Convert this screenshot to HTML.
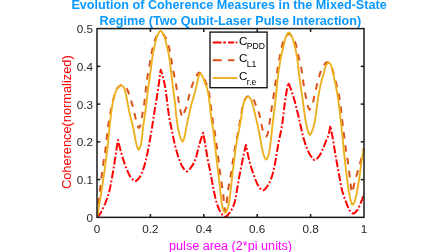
<!DOCTYPE html>
<html><head><meta charset="utf-8"><title>Coherence plot</title>
<style>
html,body{margin:0;padding:0;background:#fff;}
body{width:448px;height:252px;overflow:hidden;position:relative;font-family:"Liberation Sans",Arial,Helvetica,sans-serif;}
svg{position:absolute;left:0;top:0;display:block;}
text{font-family:"Liberation Sans",Arial,Helvetica,sans-serif;}
.tk{font-size:11.7px;fill:#262626;}
.ttl{font-size:12.65px;font-weight:bold;fill:#0998ff;}
</style></head><body>
<svg width="448" height="252" viewBox="0 0 448 252">
<rect x="0" y="0" width="448" height="252" fill="#fff"/>
<text class="ttl" x="229.1" y="9.2" text-anchor="middle">Evolution of Coherence Measures in the Mixed-State</text>
<text class="ttl" x="230.4" y="24.7" text-anchor="middle">Regime (Two Qubit-Laser Pulse Interaction)</text>
<defs><clipPath id="cp"><rect x="97.0" y="27.6" width="267.8" height="190.25"/></clipPath></defs>
<g clip-path="url(#cp)" fill="none" stroke-linejoin="round">
<path d="M97.0,217.4 L97.5,217.0 L98.0,216.5 L98.5,215.9 L99.0,215.3 L99.5,214.7 L100.0,214.0 L100.5,213.2 L101.0,212.4 L101.5,211.4 L102.0,210.4 L102.5,209.4 L103.0,208.3 L103.5,207.2 L104.0,206.1 L104.5,204.9 L105.0,203.8 L105.5,202.6 L106.0,201.3 L106.5,200.0 L107.0,198.6 L107.5,197.2 L108.0,195.7 L108.5,194.1 L109.0,192.3 L109.5,190.4 L110.0,188.3 L110.5,185.9 L111.0,183.3 L111.5,180.6 L112.0,177.8 L112.5,174.9 L113.0,172.0 L113.5,169.0 L114.0,165.8 L114.5,162.6 L115.0,159.3 L115.5,156.0 L116.0,152.7 L116.5,149.4 L117.0,146.2 L117.5,142.9 L118.0,139.9 L118.5,142.1 L119.0,144.2 L119.5,146.3 L120.0,148.3 L120.5,150.2 L121.0,152.1 L121.5,153.8 L122.0,155.5 L122.5,157.2 L123.0,158.8 L123.5,160.4 L124.0,161.9 L124.5,163.3 L125.0,164.7 L125.5,166.0 L126.0,167.3 L126.5,168.5 L127.0,169.7 L127.5,170.9 L128.0,172.0 L128.4,173.1 L128.9,174.1 L129.4,175.1 L129.9,176.0 L130.4,176.8 L130.9,177.4 L131.4,178.0 L131.9,178.6 L132.4,179.2 L132.9,179.8 L133.4,180.3 L133.9,180.6 L134.4,180.9 L134.9,181.1 L135.4,181.1 L135.9,180.9 L136.4,180.7 L136.9,180.3 L137.4,179.9 L137.9,179.3 L138.4,178.8 L138.9,178.2 L139.4,177.6 L139.9,176.9 L140.4,176.1 L140.9,175.1 L141.4,174.0 L141.9,172.8 L142.4,171.5 L142.9,170.1 L143.4,168.7 L143.9,167.3 L144.4,165.6 L144.9,163.8 L145.4,161.9 L145.9,159.8 L146.4,157.6 L146.9,155.4 L147.4,153.1 L147.9,150.7 L148.4,148.2 L148.9,145.6 L149.4,142.9 L149.9,140.1 L150.4,137.2 L150.9,134.3 L151.4,131.3 L151.9,128.3 L152.4,125.1 L152.9,121.7 L153.4,118.3 L153.9,115.0 L154.4,112.0 L154.9,109.0 L155.4,106.0 L155.9,103.1 L156.4,100.0 L156.9,97.0 L157.4,93.7 L157.9,90.4 L158.4,86.9 L158.9,83.3 L159.4,79.6 L159.9,75.7 L160.4,71.7 L160.7,69.7 L161.2,71.2 L161.7,72.8 L162.2,74.5 L162.7,76.3 L163.2,78.3 L163.7,80.3 L164.2,82.5 L164.7,84.8 L165.2,87.4 L165.7,90.5 L166.2,94.2 L166.7,98.3 L167.2,102.2 L167.7,106.1 L168.2,110.2 L168.7,114.0 L169.2,117.2 L169.7,120.0 L170.2,122.5 L170.7,124.9 L171.2,127.3 L171.7,129.6 L172.2,132.0 L172.7,134.4 L173.2,136.9 L173.7,139.4 L174.2,141.7 L174.7,143.9 L175.2,146.0 L175.7,147.9 L176.2,149.8 L176.7,151.5 L177.2,153.2 L177.7,154.9 L178.2,156.4 L178.7,157.9 L179.2,159.3 L179.7,160.6 L180.2,162.0 L180.7,163.2 L181.2,164.4 L181.7,165.4 L182.2,166.3 L182.7,167.1 L183.2,167.8 L183.7,168.6 L184.2,169.3 L184.7,169.9 L185.2,170.5 L185.7,170.9 L186.2,171.2 L186.7,171.4 L187.2,171.4 L187.7,171.2 L188.2,170.9 L188.7,170.4 L189.2,169.8 L189.7,169.2 L190.2,168.5 L190.7,167.8 L191.2,167.1 L191.7,166.4 L192.2,165.6 L192.7,164.9 L193.2,164.0 L193.7,163.0 L194.2,162.0 L194.7,160.9 L195.2,159.7 L195.7,158.4 L196.2,156.8 L196.7,155.0 L197.2,152.9 L197.7,150.8 L198.2,148.7 L198.7,146.7 L199.2,145.0 L199.7,143.3 L200.2,141.6 L200.7,140.0 L201.2,138.4 L201.7,136.9 L202.2,135.4 L202.7,133.9 L203.1,132.8 L203.6,135.4 L204.1,138.1 L204.6,140.9 L205.1,143.7 L205.6,146.6 L206.1,149.6 L206.6,152.8 L207.1,155.8 L207.6,158.7 L208.1,161.3 L208.6,163.7 L209.1,166.1 L209.6,168.5 L210.1,170.9 L210.6,173.5 L211.1,176.1 L211.6,178.9 L212.1,181.6 L212.6,184.4 L213.1,187.0 L213.6,189.6 L214.1,192.0 L214.6,194.3 L215.1,196.6 L215.6,198.8 L216.1,200.9 L216.6,202.7 L217.1,204.3 L217.6,205.7 L218.1,207.0 L218.6,208.2 L219.1,209.4 L219.6,210.4 L220.1,211.4 L220.6,212.2 L221.1,212.9 L221.6,213.7 L222.1,214.4 L222.6,215.0 L223.1,215.7 L223.6,216.2 L224.1,216.6 L224.6,216.8 L225.1,216.9 L225.6,216.8 L226.1,216.5 L226.6,216.2 L227.1,215.7 L227.6,215.2 L228.1,214.6 L228.6,213.9 L229.1,213.3 L229.6,212.7 L230.1,212.0 L230.6,211.3 L231.1,210.5 L231.6,209.7 L232.1,208.7 L232.6,207.7 L233.1,206.6 L233.6,205.3 L234.1,204.0 L234.6,202.4 L235.1,200.3 L235.6,197.9 L236.1,195.2 L236.6,192.4 L237.1,189.4 L237.6,186.3 L238.1,183.3 L238.6,180.3 L239.1,177.5 L239.6,175.0 L240.1,172.4 L240.6,169.9 L241.1,167.4 L241.6,164.9 L242.1,162.4 L242.6,160.0 L243.1,157.6 L243.6,155.3 L244.1,153.0 L244.6,150.7 L245.1,148.4 L245.6,146.2 L245.9,144.9 L246.4,147.4 L246.9,149.9 L247.4,152.3 L247.9,154.6 L248.4,156.8 L248.9,159.0 L249.4,161.0 L249.9,162.9 L250.4,164.7 L250.9,166.4 L251.4,168.1 L251.9,169.6 L252.4,171.2 L252.9,172.6 L253.4,174.0 L253.9,175.4 L254.4,176.7 L254.9,178.0 L255.4,179.4 L255.9,180.7 L256.4,181.9 L256.9,183.1 L257.4,184.2 L257.9,185.1 L258.4,185.9 L258.9,186.7 L259.4,187.4 L259.9,188.1 L260.4,188.8 L260.9,189.4 L261.4,189.8 L261.9,190.2 L262.4,190.4 L262.9,190.4 L263.4,190.3 L263.9,190.0 L264.4,189.6 L264.9,189.2 L265.4,188.7 L265.9,188.1 L266.4,187.4 L266.9,186.8 L267.4,186.1 L267.9,185.4 L268.4,184.6 L268.9,183.7 L269.4,182.7 L269.9,181.6 L270.4,180.5 L270.9,179.2 L271.4,177.8 L271.9,176.4 L272.4,174.8 L272.9,172.9 L273.4,170.9 L273.9,168.7 L274.4,166.5 L274.9,164.1 L275.4,161.4 L275.9,158.6 L276.4,155.6 L276.9,152.5 L277.4,149.5 L277.9,146.5 L278.4,143.6 L278.9,141.0 L279.4,138.5 L279.9,136.1 L280.4,133.8 L280.9,131.4 L281.4,128.9 L281.9,126.0 L282.4,122.7 L282.9,118.8 L283.4,114.7 L283.9,110.4 L284.4,106.2 L284.9,102.2 L285.4,98.6 L285.9,95.5 L286.4,92.5 L286.9,89.7 L287.4,87.0 L287.9,84.5 L288.3,82.7 L288.8,83.8 L289.3,85.0 L289.8,86.3 L290.3,87.6 L290.8,89.0 L291.3,90.4 L291.8,91.9 L292.3,93.4 L292.8,95.0 L293.3,96.5 L293.8,98.2 L294.3,99.9 L294.8,101.6 L295.3,103.5 L295.8,105.4 L296.3,107.4 L296.8,109.4 L297.3,111.4 L297.8,113.5 L298.3,115.6 L298.8,117.7 L299.3,119.9 L299.8,122.0 L300.3,124.2 L300.8,126.5 L301.3,128.8 L301.8,131.1 L302.3,133.4 L302.8,135.5 L303.3,137.4 L303.8,139.1 L304.3,140.8 L304.8,142.4 L305.3,143.9 L305.8,145.3 L306.3,146.7 L306.8,148.0 L307.3,149.2 L307.8,150.3 L308.3,151.4 L308.8,152.5 L309.3,153.5 L309.8,154.4 L310.3,155.3 L310.8,156.0 L311.3,156.7 L311.8,157.4 L312.3,158.1 L312.8,158.7 L313.3,159.3 L313.8,159.7 L314.3,160.0 L314.8,160.1 L315.3,160.0 L315.8,159.8 L316.3,159.4 L316.8,158.9 L317.3,158.4 L317.8,157.8 L318.3,157.2 L318.8,156.5 L319.3,155.9 L319.8,155.2 L320.3,154.3 L320.8,153.4 L321.3,152.4 L321.8,151.3 L322.3,150.2 L322.8,149.1 L323.3,148.0 L323.8,146.8 L324.3,145.5 L324.8,144.1 L325.3,142.8 L325.8,141.5 L326.3,140.3 L326.8,139.2 L327.3,138.1 L327.8,136.9 L328.3,135.4 L328.8,133.5 L329.3,131.4 L329.8,129.0 L330.3,126.3 L330.4,125.8 L330.9,128.3 L331.4,130.9 L331.9,133.6 L332.4,136.3 L332.9,139.2 L333.4,142.1 L333.9,145.2 L334.4,148.4 L334.9,151.4 L335.4,154.4 L335.9,157.3 L336.4,160.1 L336.9,163.0 L337.4,165.8 L337.9,168.5 L338.4,171.2 L338.9,173.9 L339.4,176.5 L339.9,179.3 L340.4,182.1 L340.9,184.8 L341.4,187.4 L341.9,189.6 L342.4,191.5 L342.9,193.2 L343.4,194.8 L343.9,196.3 L344.4,197.7 L344.9,199.1 L345.4,200.4 L345.9,201.7 L346.4,203.0 L346.9,204.3 L347.4,205.7 L347.9,207.0 L348.4,208.3 L348.9,209.3 L349.4,210.2 L349.9,210.8 L350.4,211.4 L350.9,212.0 L351.4,212.5 L351.9,212.9 L352.4,213.3 L352.9,213.4 L353.4,213.5 L353.9,213.4 L354.4,213.1 L354.9,212.7 L355.4,212.3 L355.9,211.7 L356.4,211.1 L356.9,210.5 L357.4,209.9 L357.9,209.2 L358.4,208.3 L358.9,207.3 L359.4,206.2 L359.9,205.1 L360.4,203.9 L360.9,202.7 L361.4,201.4 L361.9,200.1 L362.4,198.6 L362.9,197.1 L363.4,195.5 L363.9,193.8 L364.0,193.5" stroke="#ff0000" stroke-width="2" stroke-dasharray="8,2.1,1.9,2.1"/>
<path d="M97.0,217.4 L97.5,212.6 L98.0,207.9 L98.5,203.3 L99.0,198.7 L99.5,194.3 L100.0,190.0 L100.5,185.8 L101.0,181.6 L101.5,177.4 L102.0,173.4 L102.5,169.5 L103.0,165.7 L103.5,162.1 L104.0,158.7 L104.5,155.7 L105.0,152.7 L105.5,149.3 L106.0,145.3 L106.5,140.8 L107.0,136.2 L107.5,131.5 L108.0,127.2 L108.5,123.3 L109.0,120.1 L109.5,117.2 L110.0,114.4 L110.5,111.9 L111.0,109.4 L111.5,107.1 L112.0,104.9 L112.5,102.8 L113.0,100.7 L113.5,98.6 L114.0,96.8 L114.5,95.1 L115.0,93.7 L115.5,92.3 L116.0,91.1 L116.5,89.9 L117.0,88.9 L117.5,88.1 L118.0,87.4 L118.5,86.9 L119.0,86.5 L119.5,86.1 L120.0,85.7 L120.5,85.4 L121.0,85.1 L121.5,84.9 L122.0,84.8 L122.5,84.8 L123.0,84.9 L123.5,85.2 L124.0,85.5 L124.5,85.9 L125.0,86.3 L125.5,86.8 L126.0,87.4 L126.5,88.2 L127.0,89.1 L127.5,90.2 L128.0,91.4 L128.5,92.7 L129.0,94.0 L129.5,95.4 L130.0,96.9 L130.5,98.5 L131.0,100.2 L131.5,102.0 L132.0,103.8 L132.5,105.6 L133.0,107.4 L133.5,109.4 L134.0,111.4 L134.5,113.4 L135.0,115.4 L135.5,117.7 L136.0,120.1 L136.5,122.3 L137.0,124.0 L137.5,125.4 L138.0,126.7 L138.5,127.6 L139.0,127.9 L139.5,127.4 L140.0,126.4 L140.5,125.0 L141.0,123.1 L141.5,119.7 L142.0,116.4 L142.5,113.5 L143.0,110.8 L143.5,108.0 L144.0,105.0 L144.5,101.6 L145.0,97.4 L145.5,92.6 L146.0,87.7 L146.5,83.3 L147.0,79.7 L147.5,76.6 L148.0,73.9 L148.5,71.3 L149.0,68.6 L149.5,65.6 L150.0,62.3 L150.5,59.1 L151.0,56.1 L151.5,53.4 L152.0,50.9 L152.5,48.5 L153.0,46.4 L153.5,44.5 L154.0,42.9 L154.5,41.3 L155.0,39.9 L155.5,38.6 L156.0,37.5 L156.5,36.5 L157.0,35.8 L157.5,35.2 L158.0,34.7 L158.5,34.2 L159.0,33.7 L159.5,33.4 L160.0,33.1 L160.5,33.0 L161.0,33.0 L161.5,33.2 L162.0,33.4 L162.5,33.8 L163.0,34.2 L163.5,34.7 L164.0,35.2 L164.5,35.8 L165.0,36.5 L165.5,37.3 L166.0,38.3 L166.5,39.4 L167.0,40.7 L167.5,42.0 L168.0,43.5 L168.5,45.2 L169.0,47.3 L169.5,49.6 L170.0,52.1 L170.5,54.7 L171.0,57.4 L171.5,60.6 L172.0,63.8 L172.5,66.9 L173.0,69.6 L173.5,72.0 L174.0,74.3 L174.5,76.6 L175.0,79.1 L175.5,81.8 L176.0,84.7 L176.5,87.8 L177.0,91.0 L177.5,94.2 L178.0,97.4 L178.5,100.4 L179.0,103.2 L179.5,105.9 L180.0,108.5 L180.5,111.0 L181.0,113.0 L181.5,114.9 L182.0,116.6 L182.5,117.1 L183.0,116.2 L183.5,114.6 L184.0,113.0 L184.5,111.7 L185.0,110.5 L185.5,109.3 L186.0,108.1 L186.5,106.7 L187.0,105.1 L187.5,103.1 L188.0,100.5 L188.5,98.1 L189.0,96.2 L189.5,94.3 L190.0,92.4 L190.5,90.7 L191.0,89.0 L191.5,87.4 L192.0,85.9 L192.5,84.5 L193.0,83.1 L193.5,81.9 L194.0,80.7 L194.5,79.7 L195.0,78.7 L195.5,77.7 L196.0,76.7 L196.5,75.7 L197.0,74.8 L197.5,74.1 L198.0,73.5 L198.5,73.0 L199.0,72.8 L199.5,72.8 L200.0,73.0 L200.5,73.3 L201.0,73.7 L201.5,74.2 L202.0,74.8 L202.5,75.4 L203.0,76.0 L203.5,76.8 L204.0,77.9 L204.5,79.2 L205.0,80.5 L205.5,81.8 L206.0,83.0 L206.5,84.2 L207.0,85.4 L207.5,86.7 L208.0,88.2 L208.5,90.0 L209.0,92.4 L209.5,95.6 L210.0,99.2 L210.5,103.0 L211.0,107.2 L211.5,111.9 L212.0,116.0 L212.5,119.3 L213.0,122.3 L213.5,125.1 L214.0,127.8 L214.5,130.7 L215.0,134.0 L215.5,137.4 L216.0,140.9 L216.5,144.5 L217.0,148.2 L217.5,152.1 L218.0,156.2 L218.5,160.2 L219.0,164.3 L219.5,168.3 L220.0,172.3 L220.5,176.0 L221.0,179.4 L221.5,182.6 L222.0,185.7 L222.5,188.9 L223.0,192.5 L223.5,197.0 L224.0,202.9 L224.5,208.0 L225.0,211.5 L225.5,211.2 L226.0,208.0 L226.5,204.1 L227.0,199.2 L227.5,194.3 L228.0,190.3 L228.5,187.2 L229.0,184.4 L229.5,181.9 L230.0,179.3 L230.5,176.6 L231.0,173.6 L231.5,170.4 L232.0,167.2 L232.5,163.8 L233.0,160.5 L233.5,157.1 L234.0,153.9 L234.5,150.7 L235.0,147.7 L235.5,144.9 L236.0,142.3 L236.5,139.9 L237.0,137.5 L237.5,135.1 L238.0,132.5 L238.5,129.8 L239.0,127.0 L239.5,124.1 L240.0,121.2 L240.5,118.3 L241.0,115.4 L241.5,112.3 L242.0,109.3 L242.5,106.7 L243.0,104.8 L243.5,103.0 L244.0,101.5 L244.5,100.3 L245.0,99.3 L245.5,98.5 L246.0,97.8 L246.5,97.2 L247.0,96.7 L247.5,96.5 L248.0,96.4 L248.5,96.3 L249.0,96.3 L249.5,96.2 L250.0,96.2 L250.5,96.2 L251.0,96.3 L251.5,96.7 L252.0,97.2 L252.5,97.9 L253.0,98.7 L253.5,99.6 L254.0,100.4 L254.5,101.5 L255.0,102.8 L255.5,104.2 L256.0,105.5 L256.5,106.8 L257.0,108.0 L257.5,109.1 L258.0,110.4 L258.5,111.7 L259.0,113.3 L259.5,115.2 L260.0,117.4 L260.5,119.7 L261.0,122.2 L261.5,124.6 L262.0,126.9 L262.5,129.1 L263.0,131.1 L263.5,132.7 L264.0,133.9 L264.5,134.8 L265.0,135.6 L265.5,136.3 L266.0,136.5 L266.5,136.2 L267.0,135.4 L267.5,134.3 L268.0,132.5 L268.5,129.8 L269.0,126.7 L269.5,123.1 L270.0,119.4 L270.5,115.8 L271.0,112.5 L271.5,109.4 L272.0,106.2 L272.5,103.0 L273.0,99.8 L273.5,96.5 L274.0,93.2 L274.5,89.7 L275.0,86.1 L275.5,82.6 L276.0,79.1 L276.5,75.7 L277.0,72.4 L277.5,69.4 L278.0,66.4 L278.5,63.5 L279.0,60.8 L279.5,58.1 L280.0,55.4 L280.5,52.7 L281.0,50.1 L281.5,47.8 L282.0,45.9 L282.5,44.1 L283.0,42.4 L283.5,40.8 L284.0,39.5 L284.5,38.3 L285.0,37.5 L285.5,36.8 L286.0,36.2 L286.5,35.6 L287.0,35.0 L287.5,34.6 L288.0,34.3 L288.5,34.1 L289.0,34.0 L289.5,34.1 L290.0,34.4 L290.5,34.8 L291.0,35.3 L291.5,35.8 L292.0,36.5 L292.5,37.1 L293.0,37.8 L293.5,38.6 L294.0,39.5 L294.5,40.6 L295.0,41.8 L295.5,43.2 L296.0,44.8 L296.5,46.9 L297.0,49.3 L297.5,51.8 L298.0,54.3 L298.5,56.5 L299.0,58.5 L299.5,60.4 L300.0,62.4 L300.5,64.4 L301.0,66.7 L301.5,69.3 L302.0,72.5 L302.5,76.2 L303.0,80.0 L303.5,83.4 L304.0,86.4 L304.5,89.4 L305.0,92.3 L305.5,95.2 L306.0,97.9 L306.5,100.5 L307.0,102.8 L307.5,104.8 L308.0,106.5 L308.5,107.8 L309.0,108.9 L309.5,109.6 L310.0,109.3 L310.5,108.5 L311.0,107.5 L311.5,106.4 L312.0,105.2 L312.5,103.7 L313.0,101.9 L313.5,99.9 L314.0,97.7 L314.5,95.5 L315.0,93.1 L315.5,90.9 L316.0,88.8 L316.5,86.6 L317.0,84.5 L317.5,82.5 L318.0,80.5 L318.5,78.6 L319.0,76.9 L319.5,75.2 L320.0,73.6 L320.5,72.1 L321.0,70.7 L321.5,69.4 L322.0,68.3 L322.5,67.3 L323.0,66.4 L323.5,65.6 L324.0,64.9 L324.5,64.3 L325.0,63.7 L325.5,63.1 L326.0,62.6 L326.5,62.3 L327.0,62.3 L327.5,62.4 L328.0,62.5 L328.5,62.7 L329.0,62.9 L329.5,63.2 L330.0,63.5 L330.5,64.1 L331.0,65.1 L331.5,66.4 L332.0,68.0 L332.5,69.7 L333.0,71.5 L333.5,73.3 L334.0,75.0 L334.5,76.8 L335.0,78.6 L335.5,80.6 L336.0,82.7 L336.5,84.8 L337.0,86.8 L337.5,88.8 L338.0,90.9 L338.5,93.0 L339.0,95.3 L339.5,98.0 L340.0,101.2 L340.5,105.0 L341.0,109.3 L341.5,113.8 L342.0,118.4 L342.5,122.9 L343.0,127.2 L343.5,131.2 L344.0,135.3 L344.5,139.3 L345.0,143.3 L345.5,147.1 L346.0,150.6 L346.5,153.9 L347.0,156.7 L347.5,159.5 L348.0,162.5 L348.5,166.0 L349.0,170.1 L349.5,174.6 L350.0,178.9 L350.5,182.9 L351.0,187.1 L351.5,191.0 L352.0,192.8 L352.5,191.9 L353.0,189.8 L353.5,187.1 L354.0,184.8 L354.5,182.9 L355.0,181.1 L355.5,179.3 L356.0,177.5 L356.5,175.8 L357.0,174.0 L357.5,172.3 L358.0,170.6 L358.5,168.8 L359.0,167.1 L359.5,165.3 L360.0,163.5 L360.5,161.7 L361.0,159.8 L361.5,157.9 L362.0,155.9 L362.5,154.0 L363.0,152.0 L363.5,150.0 L364.0,148.0" stroke="#d95319" stroke-width="2" stroke-dasharray="6.6,6.4"/>
<path d="M97.0,217.4 L97.5,214.7 L98.0,212.0 L98.5,209.2 L99.0,206.3 L99.5,203.3 L100.0,200.3 L100.5,197.3 L101.0,194.1 L101.5,190.9 L102.0,187.7 L102.5,184.4 L103.0,181.0 L103.5,177.6 L104.0,174.1 L104.5,170.6 L105.0,166.9 L105.5,163.2 L106.0,159.4 L106.5,155.6 L107.0,151.6 L107.5,147.2 L108.0,142.6 L108.5,137.8 L109.0,132.9 L109.5,128.1 L110.0,123.3 L110.5,118.8 L111.0,114.5 L111.5,110.7 L112.0,107.3 L112.5,104.2 L113.0,101.5 L113.5,99.2 L114.0,97.3 L114.5,95.5 L115.0,93.9 L115.5,92.3 L116.0,90.8 L116.5,89.5 L117.0,88.4 L117.5,87.8 L118.0,87.2 L118.5,86.7 L119.0,86.2 L119.5,85.8 L120.0,85.6 L120.5,85.4 L121.0,85.4 L121.5,85.6 L122.0,85.8 L122.5,86.2 L123.0,86.6 L123.5,87.2 L124.0,87.8 L124.5,88.9 L125.0,90.7 L125.5,92.8 L126.0,94.9 L126.5,97.2 L127.0,99.7 L127.5,102.4 L128.0,105.0 L128.5,107.8 L129.0,110.5 L129.5,112.9 L130.0,115.1 L130.5,117.0 L131.0,118.9 L131.5,120.8 L132.0,122.6 L132.5,124.6 L133.0,126.7 L133.5,129.0 L134.0,131.7 L134.5,134.6 L135.0,137.5 L135.5,140.2 L136.0,142.4 L136.5,144.4 L137.0,146.2 L137.5,147.6 L138.0,148.8 L138.5,149.7 L139.0,149.6 L139.5,148.6 L140.0,147.3 L140.5,145.9 L141.0,143.9 L141.5,141.4 L142.0,137.4 L142.5,132.5 L143.0,128.0 L143.5,124.3 L144.0,120.9 L144.5,117.6 L145.0,114.2 L145.5,110.5 L146.0,106.4 L146.5,102.2 L147.0,97.8 L147.5,93.6 L148.0,89.5 L148.5,85.8 L149.0,82.3 L149.5,79.0 L150.0,75.6 L150.5,72.0 L151.0,68.0 L151.5,63.8 L152.0,59.8 L152.5,56.4 L153.0,53.5 L153.5,50.9 L154.0,48.5 L154.5,46.3 L155.0,44.1 L155.5,42.0 L156.0,39.9 L156.5,38.1 L157.0,36.5 L157.5,35.3 L158.0,34.3 L158.5,33.3 L159.0,32.4 L159.5,31.7 L160.0,31.2 L160.5,30.9 L161.0,31.0 L161.5,31.3 L162.0,31.8 L162.5,32.6 L163.0,33.5 L163.5,34.5 L164.0,35.5 L164.5,36.8 L165.0,38.4 L165.5,40.4 L166.0,42.5 L166.5,44.6 L167.0,46.6 L167.5,48.7 L168.0,50.9 L168.5,53.2 L169.0,55.8 L169.5,58.9 L170.0,62.8 L170.5,67.0 L171.0,71.2 L171.5,75.2 L172.0,79.4 L172.5,83.5 L173.0,87.6 L173.5,91.5 L174.0,95.2 L174.5,98.9 L175.0,103.0 L175.5,108.0 L176.0,113.3 L176.5,117.6 L177.0,121.4 L177.5,124.9 L178.0,127.9 L178.5,130.5 L179.0,132.7 L179.5,134.7 L180.0,136.4 L180.5,137.8 L181.0,139.0 L181.5,140.2 L182.0,141.1 L182.5,141.6 L183.0,141.3 L183.5,140.3 L184.0,138.8 L184.5,137.1 L185.0,134.7 L185.5,131.7 L186.0,129.0 L186.5,126.5 L187.0,124.0 L187.5,121.6 L188.0,119.2 L188.5,116.9 L189.0,114.6 L189.5,112.4 L190.0,110.2 L190.5,108.0 L191.0,106.0 L191.5,104.1 L192.0,102.3 L192.5,100.5 L193.0,98.8 L193.5,97.2 L194.0,95.5 L194.5,93.7 L195.0,91.9 L195.5,90.0 L196.0,87.9 L196.5,85.6 L197.0,83.3 L197.5,81.1 L198.0,79.2 L198.5,77.2 L199.0,75.3 L199.5,73.9 L200.0,73.5 L200.5,73.7 L201.0,74.2 L201.5,74.8 L202.0,75.6 L202.5,76.3 L203.0,77.4 L203.5,78.7 L204.0,80.1 L204.5,81.5 L205.0,82.8 L205.5,84.1 L206.0,85.3 L206.5,86.6 L207.0,88.2 L207.5,90.0 L208.0,92.3 L208.5,95.2 L209.0,98.6 L209.5,102.2 L210.0,106.6 L210.5,111.8 L211.0,116.4 L211.5,119.9 L212.0,122.8 L212.5,125.7 L213.0,128.6 L213.5,132.0 L214.0,136.1 L214.5,140.6 L215.0,145.1 L215.5,149.5 L216.0,153.7 L216.5,158.0 L217.0,162.3 L217.5,166.5 L218.0,170.8 L218.5,175.1 L219.0,179.5 L219.5,183.9 L220.0,188.2 L220.5,192.8 L221.0,197.7 L221.5,202.0 L222.0,205.1 L222.5,207.4 L223.0,209.2 L223.5,210.4 L224.0,211.5 L224.5,212.3 L225.0,212.8 L225.5,212.7 L226.0,212.1 L226.5,211.1 L227.0,210.0 L227.5,208.7 L228.0,207.1 L228.5,205.1 L229.0,202.7 L229.5,199.5 L230.0,195.7 L230.5,191.6 L231.0,187.4 L231.5,182.6 L232.0,177.8 L232.5,173.5 L233.0,169.4 L233.5,165.5 L234.0,161.6 L234.5,157.6 L235.0,153.3 L235.5,149.3 L236.0,145.8 L236.5,142.9 L237.0,140.3 L237.5,137.9 L238.0,135.6 L238.5,133.1 L239.0,130.3 L239.5,127.5 L240.0,124.5 L240.5,121.5 L241.0,118.4 L241.5,115.4 L242.0,112.0 L242.5,108.7 L243.0,106.1 L243.5,104.1 L244.0,102.3 L244.5,100.7 L245.0,99.6 L245.5,98.9 L246.0,98.2 L246.5,97.7 L247.0,97.2 L247.5,96.9 L248.0,96.8 L248.5,96.9 L249.0,97.2 L249.5,97.7 L250.0,98.2 L250.5,98.9 L251.0,99.6 L251.5,100.8 L252.0,102.4 L252.5,104.1 L253.0,105.9 L253.5,107.7 L254.0,109.7 L254.5,111.8 L255.0,113.9 L255.5,116.0 L256.0,118.1 L256.5,120.2 L257.0,122.4 L257.5,124.6 L258.0,126.9 L258.5,129.3 L259.0,131.8 L259.5,134.4 L260.0,137.0 L260.5,139.8 L261.0,142.7 L261.5,145.6 L262.0,148.2 L262.5,150.5 L263.0,152.7 L263.5,154.6 L264.0,156.0 L264.5,157.1 L265.0,158.2 L265.5,159.0 L266.0,159.5 L266.5,159.4 L267.0,158.8 L267.5,157.8 L268.0,156.5 L268.5,155.1 L269.0,152.9 L269.5,150.2 L270.0,147.1 L270.5,143.1 L271.0,138.7 L271.5,134.3 L272.0,129.7 L272.5,125.1 L273.0,120.8 L273.5,116.6 L274.0,112.4 L274.5,108.3 L275.0,104.1 L275.5,99.8 L276.0,95.3 L276.5,90.4 L277.0,85.4 L277.5,80.6 L278.0,76.0 L278.5,72.0 L279.0,68.5 L279.5,65.3 L280.0,62.3 L280.5,59.6 L281.0,57.0 L281.5,54.6 L282.0,52.4 L282.5,50.3 L283.0,48.2 L283.5,46.2 L284.0,44.2 L284.5,42.0 L285.0,39.8 L285.5,37.9 L286.0,36.5 L286.5,35.5 L287.0,34.6 L287.5,33.7 L288.0,33.1 L288.5,32.7 L289.0,32.6 L289.5,32.8 L290.0,33.4 L290.5,34.1 L291.0,35.0 L291.5,35.9 L292.0,36.9 L292.5,38.2 L293.0,39.8 L293.5,41.6 L294.0,43.5 L294.5,45.4 L295.0,47.3 L295.5,49.4 L296.0,51.6 L296.5,54.0 L297.0,56.8 L297.5,60.2 L298.0,64.6 L298.5,69.4 L299.0,73.6 L299.5,77.4 L300.0,81.1 L300.5,84.7 L301.0,88.2 L301.5,91.7 L302.0,95.2 L302.5,98.7 L303.0,102.4 L303.5,106.2 L304.0,110.0 L304.5,113.6 L305.0,117.1 L305.5,120.1 L306.0,122.9 L306.5,125.5 L307.0,127.8 L307.5,129.6 L308.0,131.2 L308.5,132.7 L309.0,134.0 L309.5,134.8 L310.0,134.9 L310.5,134.4 L311.0,133.6 L311.5,132.5 L312.0,131.2 L312.5,129.9 L313.0,128.5 L313.5,126.8 L314.0,124.8 L314.5,122.6 L315.0,120.2 L315.5,117.2 L316.0,113.7 L316.5,109.8 L317.0,105.9 L317.5,102.1 L318.0,98.6 L318.5,95.6 L319.0,92.7 L319.5,89.9 L320.0,87.4 L320.5,85.1 L321.0,83.1 L321.5,81.2 L322.0,79.5 L322.5,77.8 L323.0,76.1 L323.5,74.3 L324.0,72.4 L324.5,70.3 L325.0,68.3 L325.5,66.7 L326.0,65.5 L326.5,64.7 L327.0,63.9 L327.5,63.3 L328.0,62.8 L328.5,62.6 L329.0,62.7 L329.5,63.1 L330.0,63.8 L330.5,64.6 L331.0,65.6 L331.5,66.7 L332.0,68.5 L332.5,70.7 L333.0,73.0 L333.5,75.2 L334.0,77.4 L334.5,79.7 L335.0,82.1 L335.5,84.5 L336.0,87.0 L336.5,89.5 L337.0,92.1 L337.5,94.9 L338.0,98.0 L338.5,101.4 L339.0,105.2 L339.5,109.3 L340.0,113.5 L340.5,118.0 L341.0,122.5 L341.5,127.1 L342.0,131.8 L342.5,136.8 L343.0,142.0 L343.5,147.1 L344.0,152.0 L344.5,156.7 L345.0,161.3 L345.5,165.8 L346.0,170.2 L346.5,174.4 L347.0,178.4 L347.5,182.3 L348.0,186.1 L348.5,189.4 L349.0,192.3 L349.5,194.8 L350.0,197.1 L350.5,199.5 L351.0,201.6 L351.5,203.0 L352.0,204.0 L352.5,204.6 L353.0,204.6 L353.5,203.9 L354.0,202.9 L354.5,201.8 L355.0,200.4 L355.5,198.7 L356.0,196.8 L356.5,194.4 L357.0,191.7 L357.5,188.9 L358.0,186.0 L358.5,183.0 L359.0,179.9 L359.5,176.7 L360.0,173.2 L360.5,169.4 L361.0,165.5 L361.5,162.0 L362.0,159.0 L362.5,156.0 L363.0,153.3 L363.5,150.7 L364.0,148.4 L364.1,148.0" stroke="#edb120" stroke-width="1.9"/>
</g>
<g stroke="#1a1a1a" stroke-width="1.5" fill="none">
<rect x="97.0" y="28.6" width="267.0" height="188.75"/>
<line x1="150.40" y1="217.35" x2="150.40" y2="214.04999999999998"/><line x1="150.40" y1="28.6" x2="150.40" y2="31.900000000000002"/>
<line x1="203.80" y1="217.35" x2="203.80" y2="214.04999999999998"/><line x1="203.80" y1="28.6" x2="203.80" y2="31.900000000000002"/>
<line x1="257.20" y1="217.35" x2="257.20" y2="214.04999999999998"/><line x1="257.20" y1="28.6" x2="257.20" y2="31.900000000000002"/>
<line x1="310.60" y1="217.35" x2="310.60" y2="214.04999999999998"/><line x1="310.60" y1="28.6" x2="310.60" y2="31.900000000000002"/>
<line x1="97.0" y1="179.60" x2="100.3" y2="179.60"/><line x1="364.0" y1="179.60" x2="360.7" y2="179.60"/>
<line x1="97.0" y1="141.85" x2="100.3" y2="141.85"/><line x1="364.0" y1="141.85" x2="360.7" y2="141.85"/>
<line x1="97.0" y1="104.10" x2="100.3" y2="104.10"/><line x1="364.0" y1="104.10" x2="360.7" y2="104.10"/>
<line x1="97.0" y1="66.35" x2="100.3" y2="66.35"/><line x1="364.0" y1="66.35" x2="360.7" y2="66.35"/>
</g>
<text class="tk" x="97.00" y="233.2" text-anchor="middle">0</text>
<text class="tk" x="150.40" y="233.2" text-anchor="middle">0.2</text>
<text class="tk" x="203.80" y="233.2" text-anchor="middle">0.4</text>
<text class="tk" x="257.20" y="233.2" text-anchor="middle">0.6</text>
<text class="tk" x="310.60" y="233.2" text-anchor="middle">0.8</text>
<text class="tk" x="364.00" y="233.2" text-anchor="middle">1</text>
<text class="tk" x="93.0" y="221.75" text-anchor="end">0</text>
<text class="tk" x="93.0" y="184.00" text-anchor="end">0.1</text>
<text class="tk" x="93.0" y="146.25" text-anchor="end">0.2</text>
<text class="tk" x="93.0" y="108.50" text-anchor="end">0.3</text>
<text class="tk" x="93.0" y="70.75" text-anchor="end">0.4</text>
<text class="tk" x="93.0" y="33.00" text-anchor="end">0.5</text>
<text x="230.5" y="250" text-anchor="middle" font-size="12.65" fill="#ff00ff">pulse area (2*pi units)</text>
<text transform="translate(71.4,122.2) rotate(-90)" text-anchor="middle" font-size="12.8" fill="#ff0000">Coherence(normalized)</text>
<g>
<rect x="210.0" y="32.1" width="57.1" height="55.6" fill="#fff" stroke="#1a1a1a" stroke-width="1.4"/>
<path d="M212.7,42.4H221.5M223.3,42.4H225.9M228,42.4H234.1M235.7,42.4H237.3" stroke="#ff0000" stroke-width="2" fill="none"/>
<path d="M212.7,60.2H221.7M227.9,60.2H234.4" stroke="#d95319" stroke-width="1.9" fill="none"/>
<line x1="212.7" y1="78" x2="237.3" y2="78" stroke="#edb120" stroke-width="1.9"/>
<text x="238.9" y="44.8" font-size="11.6px" fill="#000">C<tspan font-size="8.6px" dy="4.6" dx="-0.5">PDD</tspan></text>
<text x="238.9" y="62.1" font-size="11.6px" fill="#000">C<tspan font-size="8.6px" dy="4.6" dx="-0.5">L1</tspan></text>
<text x="238.9" y="79.9" font-size="11.6px" fill="#000">C<tspan font-size="8.6px" dy="4.6" dx="-0.5">r.e</tspan></text>
</g>
</svg>
</body></html>
